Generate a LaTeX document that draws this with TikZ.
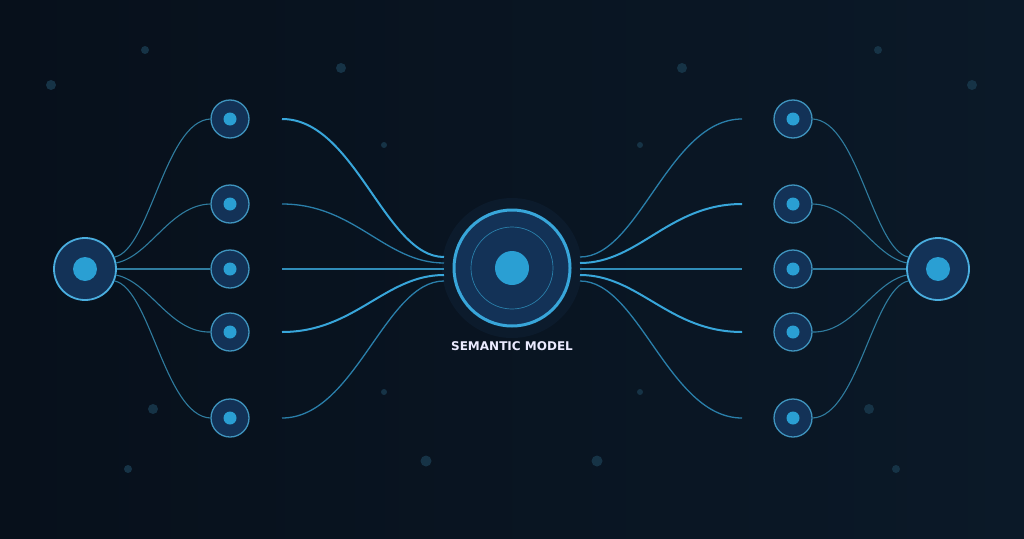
\documentclass[tikz,border=0pt]{standalone}
\usepackage{fontspec}
\newfontfamily\labelfont{DejaVu Sans}
\definecolor{bgA}{HTML}{07101B}
\definecolor{bgB}{HTML}{0B1928}
\definecolor{nodefill}{HTML}{133257}
\definecolor{nodeedge}{HTML}{4AAEDF}
\definecolor{dotc}{HTML}{2A9FD3}
\definecolor{brightline}{HTML}{38A6DA}
\definecolor{dimline}{HTML}{2A7FAA}
\definecolor{fanline}{HTML}{2F7C9F}
\definecolor{speck}{HTML}{163346}
\definecolor{glow}{HTML}{0C1B2C}
\tikzset{
  bignode/.style={circle, minimum size=62pt, inner sep=0pt, fill=nodefill, draw=nodeedge, line width=1.8pt},
  smallnode/.style={circle, minimum size=38pt, inner sep=0pt, fill=nodefill, draw=nodeedge!85!black, line width=1.3pt},
  bigdot/.style={circle, minimum size=24pt, inner sep=0pt, fill=dotc},
  smalldot/.style={circle, minimum size=13pt, inner sep=0pt, fill=dotc},
  fan/.style={draw=fanline, line width=1.1pt},
  bright/.style={draw=brightline, line width=2pt},
  dim/.style={draw=dimline, line width=1.3pt},
  med/.style={draw=brightline!85!black, line width=1.6pt},
  speckdot/.style={fill=speck}
}
\begin{document}
\begin{tikzpicture}[x=1pt,y=-1pt]
\useasboundingbox (0,0) rectangle (1024,538);
\shade[left color=bgA, right color=bgB] (0,0) rectangle (1024,538);
% background specks
\foreach \x/\y/\r in {51/85/5,145/50/4,341/68/5,384/145/3,682/68/5,640/145/3,878/50/4,972/85/5,153/409/5,128/469/4,384/392/3,426/461/5.5,597/461/5.5,640/392/3,869/409/5,896/469/4}
  \fill[speckdot] (\x,\y) circle (\r);
% center glow
\fill[glow] (512,268) circle (70);

% nodes
\node[bignode] (L) at (85,269) {};
\node[bigdot] at (L) {};
\node[bignode] (R) at (938,269) {};
\node[bigdot] at (R) {};
\foreach \i/\y in {1/119,2/204,3/269,4/332,5/418}{
  \node[smallnode] (l\i) at (230,\y) {};
  \node[smalldot] at (l\i) {};
  \node[smallnode] (r\i) at (793,\y) {};
  \node[smalldot] at (r\i) {};
  \coordinate (a\i) at (282,\y);
  \coordinate (b\i) at (742,\y);
}
\node[circle, minimum size=116pt, inner sep=0pt, fill=nodefill, draw=brightline, line width=3pt] (C) at (512,268) {};
\draw[draw=dimline, line width=0.7pt] (C) circle (41);
\node[circle, minimum size=34pt, inner sep=0pt, fill=dotc] at (C) {};
\node[text=white!92!blue, font=\labelfont\bfseries\fontsize{12}{14}\selectfont] (T) at (512,346) {SEMANTIC MODEL};

% center end coordinates
\coordinate (cl1) at (444,257);
\coordinate (cl2) at (444,263);
\coordinate (cl3) at (444,269);
\coordinate (cl4) at (444,275);
\coordinate (cl5) at (444,281);
\coordinate (cr1) at (580,257);
\coordinate (cr2) at (580,263);
\coordinate (cr3) at (580,269);
\coordinate (cr4) at (580,275);
\coordinate (cr5) at (580,281);

% left fan
\draw[fan] (L.22) .. controls (150,250) and (165,121) .. (l1.west);
\draw[fan] (L.11) .. controls (150,256) and (170,205) .. (l2.west);
\draw[fan] (L.east) -- (l3.west);
\draw[fan] (L.-11) .. controls (150,282) and (170,333) .. (l4.west);
\draw[fan] (L.-22) .. controls (150,288) and (165,416) .. (l5.west);
% right fan
\draw[fan] (R.158) .. controls (873,250) and (858,121) .. (r1.east);
\draw[fan] (R.169) .. controls (873,256) and (853,205) .. (r2.east);
\draw[fan] (R.west) -- (r3.east);
\draw[fan] (R.191) .. controls (873,282) and (853,333) .. (r4.east);
\draw[fan] (R.202) .. controls (873,288) and (858,416) .. (r5.east);

% left to center
\draw[bright] (a1) .. controls (355,119) and (385,257) .. (cl1);
\draw[dim] (a2) .. controls (355,204) and (385,263) .. (cl2);
\draw[med] (a3) -- (cl3);
\draw[bright] (a4) .. controls (355,332) and (385,275) .. (cl4);
\draw[dim] (a5) .. controls (355,418) and (385,281) .. (cl5);
% center to right
\draw[dim] (cr1) .. controls (639,257) and (669,119) .. (b1);
\draw[bright] (cr2) .. controls (639,263) and (669,204) .. (b2);
\draw[med] (cr3) -- (b3);
\draw[bright] (cr4) .. controls (639,275) and (669,332) .. (b4);
\draw[dim] (cr5) .. controls (639,281) and (669,418) .. (b5);
\end{tikzpicture}
\end{document}
